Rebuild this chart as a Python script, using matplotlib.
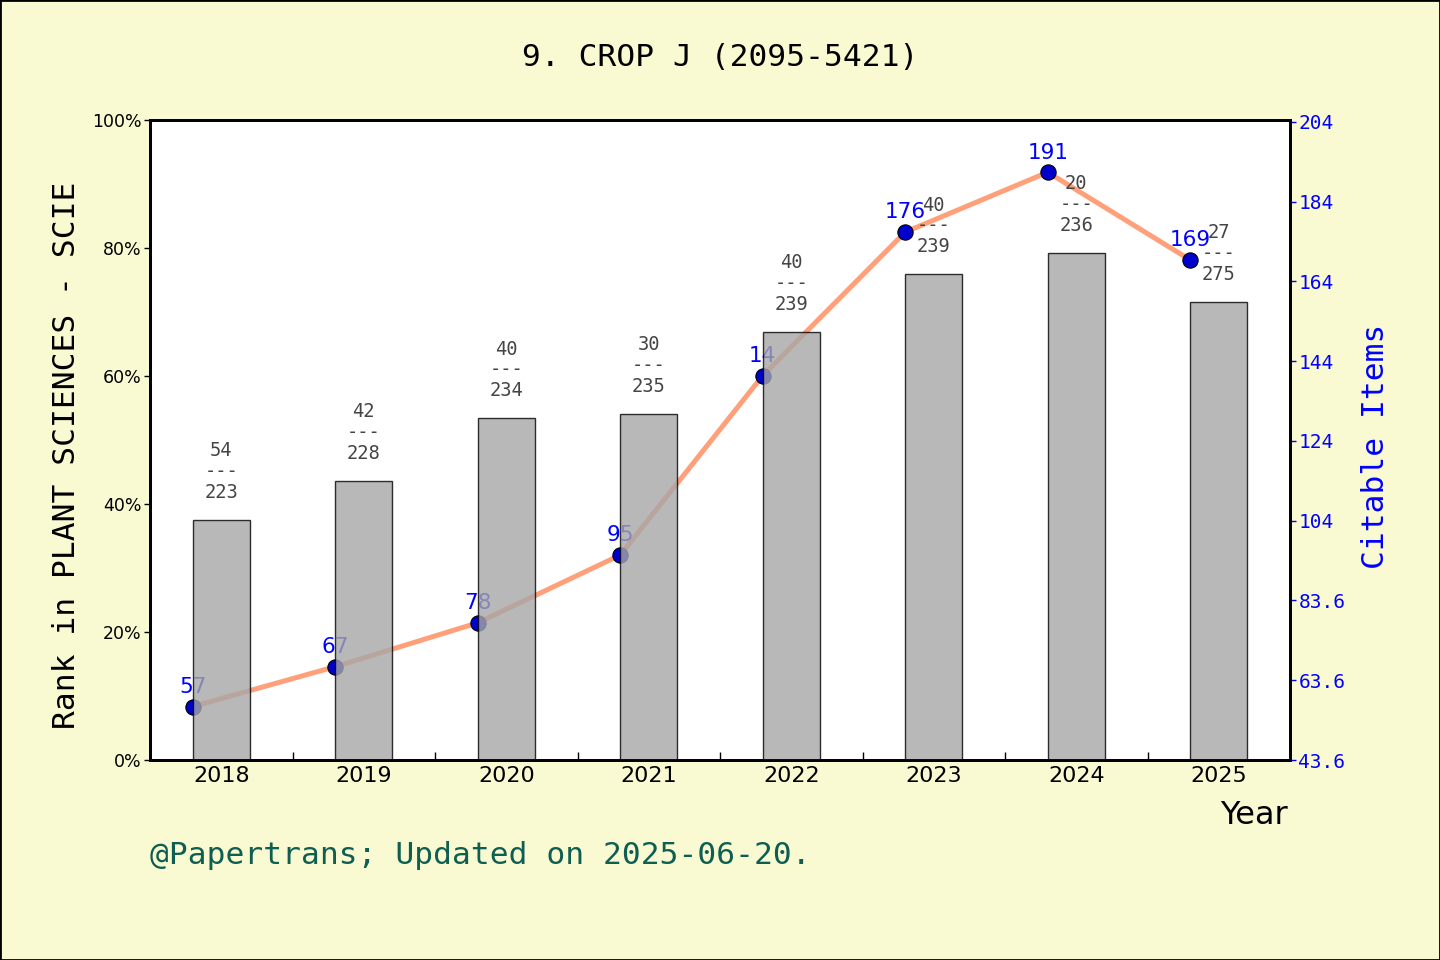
import matplotlib
matplotlib.use("Agg")
import matplotlib.pyplot as plt
from matplotlib.patches import Rectangle
from matplotlib.ticker import FuncFormatter, FixedLocator
import numpy as np

years = ["2018", "2019", "2020", "2021", "2022", "2023", "2024", "2025"]
rank_pct = [0.375, 0.436, 0.534, 0.541, 0.669, 0.759, 0.792, 0.716]
rank_num = [54, 42, 40, 30, 40, 40, 20, 27]
rank_total = [223, 228, 234, 235, 239, 239, 236, 275]
citable = [57, 67, 78, 95, 140, 176, 191, 169]
citable_labels = ["57", "67", "78", "95", "14", "176", "191", "169"]
right_ticks = [43.6, 63.6, 83.6, 103.6, 123.6, 143.6, 163.6, 183.6, 203.6]

MONO = "DejaVu Sans Mono"
SANS = "DejaVu Sans"
BG = "#fafad2"

fig = plt.figure(figsize=(14.4, 9.6), dpi=100, facecolor=BG)
ax = fig.add_axes([150/1440, 1-760/960, 1140/1440, 640/960])
ax2 = ax.twinx()
ax.set_zorder(ax2.get_zorder() + 1)
ax.patch.set_visible(False)
ax2.patch.set_facecolor("white")
ax2.patch.set_visible(True)

x = np.arange(len(years))

# line (behind bars)
ax2.plot(x - 0.2, citable, color="#ffa07a", linewidth=3.6, zorder=2,
         marker="o", markersize=11, markerfacecolor="#0000cd",
         markeredgecolor="black", markeredgewidth=0.8)
for xi, v, lab in zip(x - 0.2, citable, citable_labels):
    ax2.annotate(lab, (xi, v), xytext=(0, 7), textcoords="offset points",
                 ha="center", va="bottom", color="blue", fontsize=15.5,
                 family=SANS, zorder=3)
ax2.set_ylim(43.6, 204.1)
ax2.yaxis.set_major_locator(FixedLocator(right_ticks))
ax2.yaxis.set_major_formatter(FuncFormatter(lambda v, p: "%.3g" % v))
ax2.tick_params(axis="y", colors="blue", labelsize=14, length=4, width=1, pad=2)
for t in ax2.get_yticklabels():
    t.set_family(MONO)

# bars (on top, semi-transparent)
ax.bar(x, rank_pct, width=0.4, color="#a7a7a8", alpha=0.8,
       edgecolor="black", linewidth=1, zorder=2)
for xi, h, n, tot in zip(x, rank_pct, rank_num, rank_total):
    ax.annotate(f"{n}\n---\n{tot}", (xi, h), xytext=(0, 13),
                textcoords="offset points", ha="center", va="bottom",
                color="#454545", fontsize=13.5, family=MONO, linespacing=1.12,
                zorder=4)

ax.set_xlim(-0.5, 7.5)
ax.set_ylim(0, 1)
ax.set_xticks(x)
ax.set_xticklabels(years, fontsize=16, family=SANS)
ax.set_xticks(np.arange(-0.5, 7.6, 1), minor=True)
ax.tick_params(axis="x", which="major", length=0, pad=4)
ax.tick_params(axis="x", which="minor", direction="in", length=6, width=1)
ax.set_yticks([0, 0.2, 0.4, 0.6, 0.8, 1.0])
ax.yaxis.set_major_formatter(FuncFormatter(lambda v, p: f"{v*100:.0f}%"))
ax.tick_params(axis="y", labelsize=12.5, length=4, width=1, pad=2)

for a in (ax, ax2):
    for s in a.spines.values():
        s.set_linewidth(2)
        s.set_color("black")

# texts
fig.text(0.5, 1-57/960, "9. CROP J (2095-5421)", ha="center", va="center",
         fontsize=22.5, family=MONO, color="black")
fig.text(67/1440, 1-455/960, "Rank in PLANT SCIENCES - SCIE", rotation=90,
         ha="center", va="center", fontsize=22.5, family=MONO, color="black")
fig.text(1375/1440, 1-446/960, "Citable Items", rotation=90,
         ha="center", va="center", fontsize=22.5, family=MONO, color="blue")
fig.text(1288/1440, 1-816/960, "Year", ha="right", va="center",
         fontsize=23, family=SANS, color="black")
fig.text(150/1440, 1-855/960, "@Papertrans; Updated on 2025-06-20.",
         ha="left", va="center", fontsize=22.5, family=MONO, color="#0f5e52")

fig.patches.append(Rectangle((0, 0), 1, 1, transform=fig.transFigure,
                             fill=False, edgecolor="black", linewidth=2))

fig.savefig("out.png", dpi=100, facecolor=BG)
